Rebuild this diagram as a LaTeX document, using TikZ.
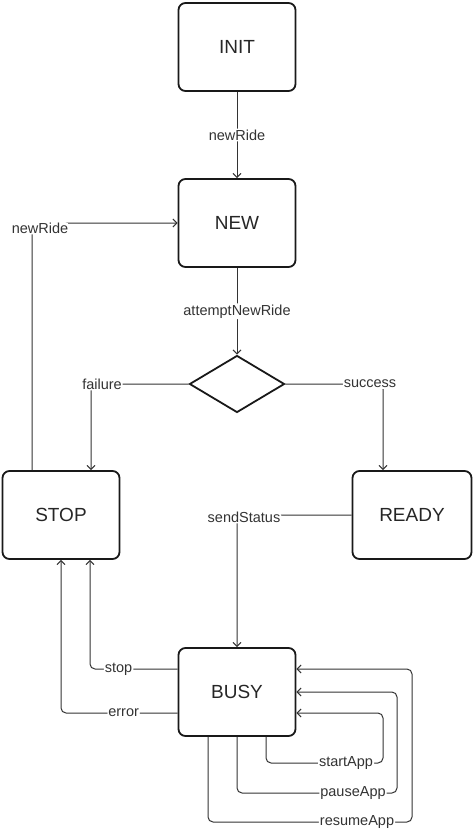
\documentclass[tikz,border=0pt]{standalone}
\usepackage{fontspec}
\setmainfont{Liberation Sans}
\usetikzlibrary{shapes.geometric,arrows.meta}

\begin{document}
\begin{tikzpicture}[x=1pt,y=-1pt,
  state/.style={draw=black!90,line width=1.8pt,rounded corners=7pt,
    minimum width=117pt,minimum height=88pt,text=black!85,
    font=\fontsize{19}{22}\selectfont},
  trans/.style={draw=black!80,line width=1pt,rounded corners=5pt},
  lbl/.style={fill=white,inner sep=1pt,text=black!80,
    font=\fontsize{14.5}{16}\selectfont},
  >={Straight Barb[length=4pt,width=8pt]}]
  \useasboundingbox (0,0) rectangle (474,835);

  \node[state] (init) at (237,47) {INIT};
  \node[state] (new) at (237,223) {NEW};
  \node[draw=black!90,line width=1.8pt,diamond,inner sep=0pt,
    minimum width=95pt,minimum height=57pt] (choice) at (237,384) {};
  \node[state] (stop) at (61,515) {STOP};
  \node[state,minimum width=119pt] (ready) at (412,515) {READY};
  \node[state] (busy) at (237,692) {BUSY};

  \draw[trans,->] (init) -- node[lbl] {newRide} (new);
  \draw[trans,->] (new) -- node[lbl] {attemptNewRide} (choice);
  \draw[trans,->] ([xshift=-29pt]stop.north) |- node[lbl,xshift=8pt,yshift=-5pt] {newRide} (new.west);
  \draw[trans,->] (choice.west) -| node[lbl,pos=0.5,xshift=11pt] {failure} ([xshift=30pt]stop.north);
  \draw[trans,->] (choice.east) -| node[lbl,pos=0.5,xshift=-13pt] {success} ([xshift=-29pt]ready.north);
  \draw[trans,->] (ready.west) -| node[lbl,pos=0.5,xshift=7pt,yshift=-2pt] {sendStatus} (busy.north);

  % back to STOP
  \draw[trans,->] ([yshift=23pt]busy.west) -- ++(-59,0) node[lbl] {stop} -| ([xshift=29pt]stop.south);
  \draw[trans,->] ([yshift=-21pt]busy.west) -- ++(-54,0) node[lbl] {error} -| (stop.south);

  % self loops
  \draw[trans,->] ([xshift=29pt]busy.south) |- (346,763) node[lbl] {startApp} -| (383,713) -- ([yshift=-21pt]busy.east);
  \draw[trans,->] (busy.south) |- (353,793) node[lbl] {pauseApp} -| (397,692) -- (busy.east);
  \draw[trans,->] ([xshift=-29pt]busy.south) |- (357,822) node[lbl] {resumeApp} -| (412,669) -- ([yshift=23pt]busy.east);
\end{tikzpicture}
\end{document}
